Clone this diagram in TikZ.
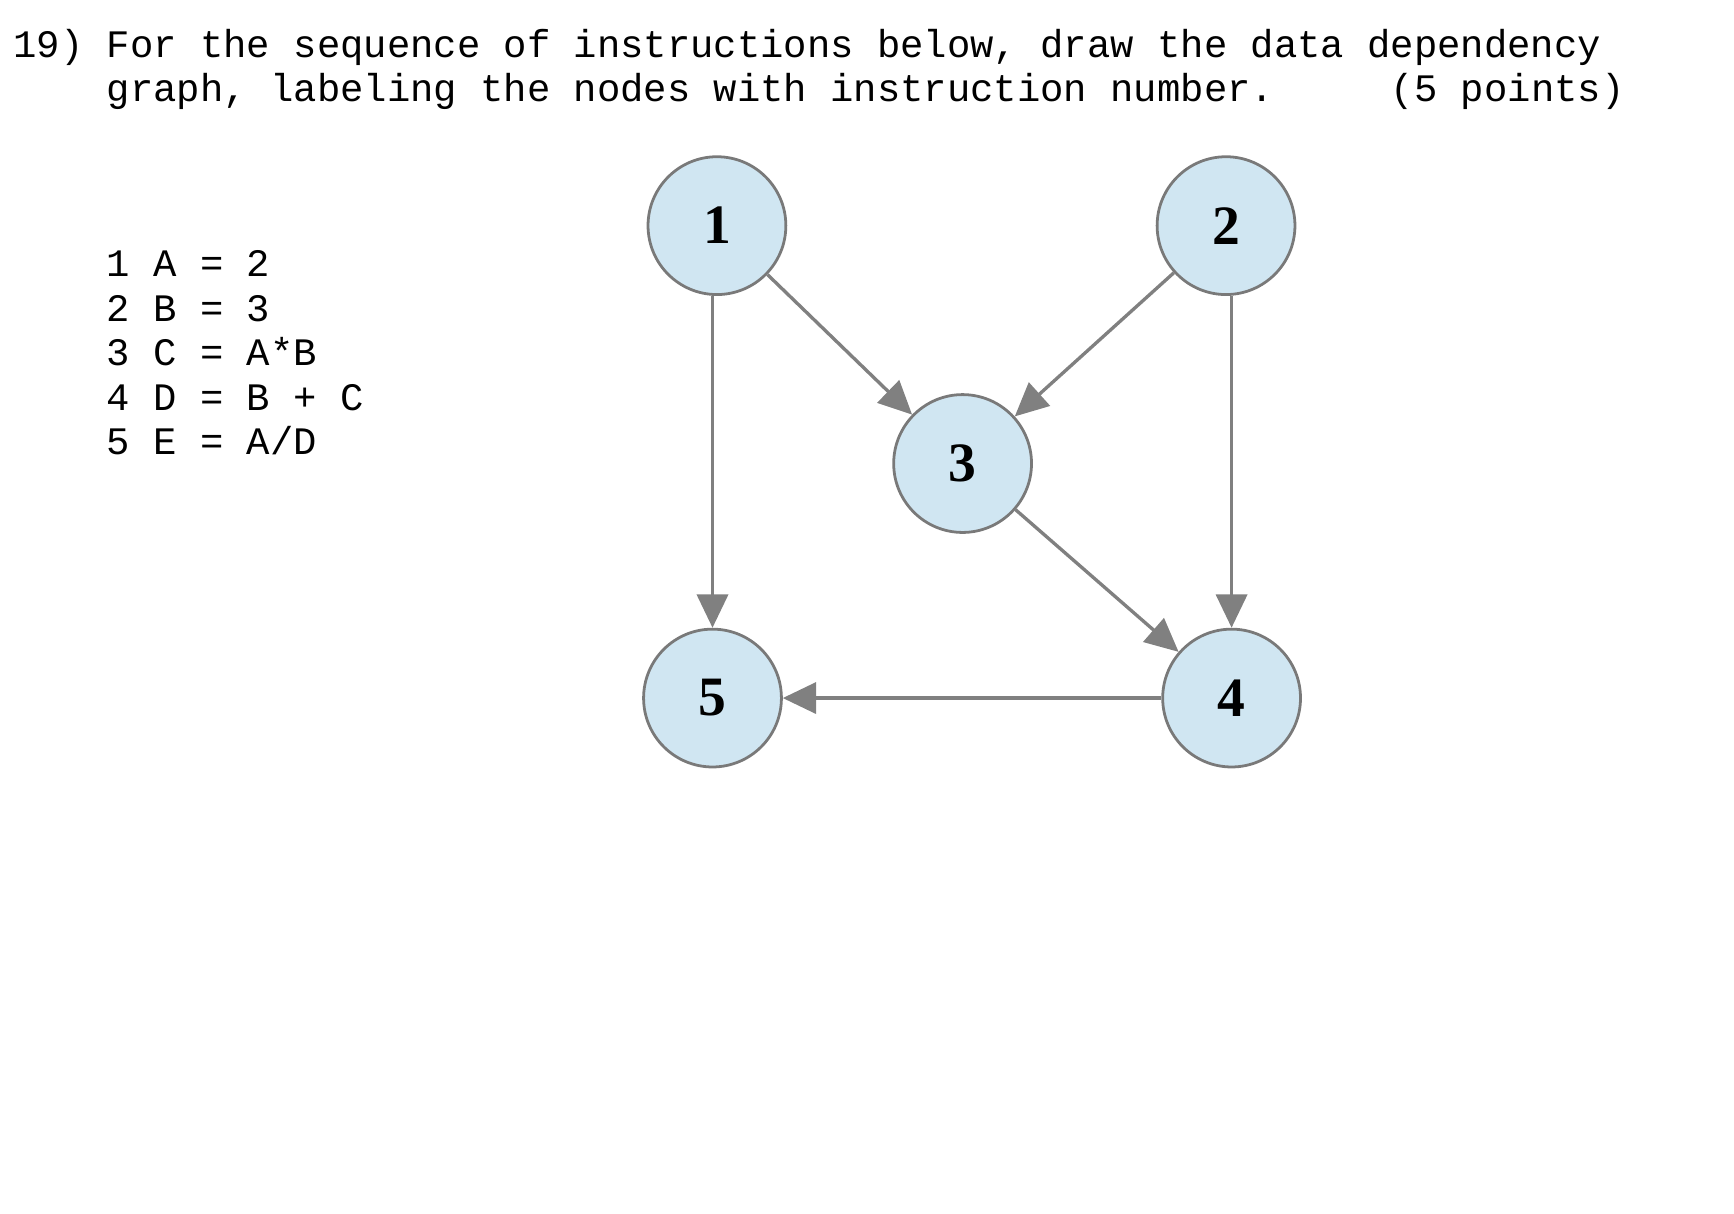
\documentclass[tikz,border=0pt]{standalone}
\usepackage{fontspec}
\setmonofont{Liberation Mono}
\newfontfamily\numfont{Liberation Serif}
\usetikzlibrary{arrows.meta}
\begin{document}
\begin{tikzpicture}[x=1pt,y=-1pt,
  vtx/.style={circle,draw=gray!95!black,line width=2.5pt,fill=cyan!40!blue!18!white,fill={rgb,255:red,208;green,230;blue,242},minimum size=124pt,inner sep=0pt,font=\numfont\bfseries\fontsize{50}{50}\selectfont},
  edge/.style={draw={rgb,255:red,128;green,128;blue,128},line width=3pt,-{Triangle[length=30pt,width=28pt]}},
  txt/.style={anchor=base west,inner sep=0pt,font=\ttfamily\fontsize{35}{35}\selectfont}]
\useasboundingbox (0,0) rectangle (1560,1092);
\node[txt] (h1) at (12,52) {19) For the sequence of instructions below, draw the data dependency};
\node[txt] (h2) at (96,91) {graph, labeling the nodes with instruction number.\ \ \ \ \ (5 points)};
\node[txt] (c1) at (96,249) {1 A = 2};
\node[txt] (c2) at (96,289) {2 B = 3};
\node[txt] (c3) at (96,329) {3 C = A*B};
\node[txt] (c4) at (96,369) {4 D = B + C};
\node[txt] (c5) at (96,409) {5 E = A/D};
\node[vtx] (n1) at (645,203) {1};
\node[vtx] (n2) at (1103,203) {2};
\node[vtx] (n3) at (866,417) {3};
\node[vtx] (n4) at (1108,628) {4};
\node[vtx] (n5) at (641,628) {5};
\draw[edge] (n1.south -| n5) -- (n5);
\draw[edge] (n2.south -| n4) -- (n4);
\draw[edge] (n1) -- (n3);
\draw[edge] (n2) -- (n3);
\draw[edge] (n3) -- (n4);
\draw[edge] (n4) -- (n5);
\end{tikzpicture}
\end{document}
